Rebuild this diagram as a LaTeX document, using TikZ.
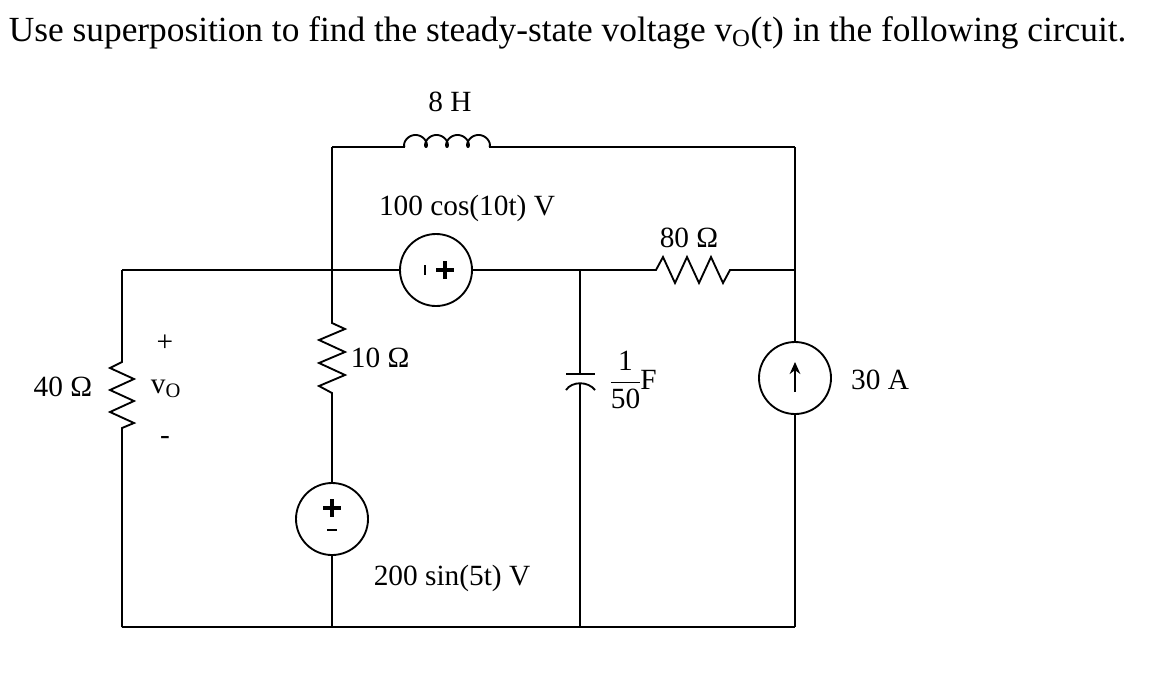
\documentclass[tikz,border=0pt]{standalone}
\usepackage{fontspec}
\setmainfont{Liberation Serif}
\usetikzlibrary{arrows.meta}
\begin{document}
\begin{tikzpicture}[x=0.75pt,y=-0.75pt,line width=1.4pt,
  lbl/.style={font=\fontsize{22}{26}\selectfont,inner sep=0pt},
  src/.style={circle,draw,minimum size=54pt,inner sep=0pt,fill=white}]
\useasboundingbox (0,0) rectangle (1162,686);
\node[font=\fontsize{26.5}{30}\selectfont,anchor=west,inner sep=0pt] (title) at (8,33) {Use superposition to find the steady-state voltage v\textsubscript{O}(t) in the following circuit.};
% corners
\coordinate (tl) at (332,147); \coordinate (tr) at (795,147);
\coordinate (ml) at (122,270); \coordinate (mm) at (332,270); \coordinate (mc) at (580,270); \coordinate (mr) at (795,270);
\coordinate (bl) at (122,627); \coordinate (bm) at (332,627); \coordinate (bc) at (580,627); \coordinate (br) at (795,627);
% top wire with inductor
\draw (tl) -- (405,147);
\draw plot[domain=0:1440,samples=200,smooth] ({405+0.058333*\x-5*sin(\x)},{147-6*(1-cos(\x))});
\draw (489,147) -- (tr);
\node[lbl] (L) at (450,102) {8 H};
% middle wire
\draw (ml) -- (mm) -- (400,270);
\node[src] (vs1) at (436,270) {};
\draw[line width=2.2pt] (425,265) -- (425,275);
\draw[line width=2.4pt] (445,261) -- (445,279) (436,270) -- (454,270);
\draw (472,270) -- (mc) -- (648,270);
\draw (648,270) -- (656,270) -- (663,257) -- (675,283) -- (687,257) -- (699,283) -- (711,257) -- (723,283) -- (730,270) -- (mr);
\node[lbl] (vs1l) at (467,208) {100 cos(10t) V};
\node[lbl] (r80) at (689,238) {80 Ω};
% left branch
\draw (ml) -- (122,362) -- (110,368) -- (134,379) -- (110,390) -- (134,401) -- (110,412) -- (134,423) -- (122,428) -- (bl);
\node[lbl,anchor=east] (r40) at (93,387) {40 Ω};
\node[lbl] (p) at (165,343) {+};
\node[lbl] (vo) at (166,389) {v\textsubscript{O}};
\node[lbl] (m) at (165,440) {-};
% 10 ohm branch
\draw (tl) -- (mm) -- (332,323) -- (345,329) -- (319,340) -- (345,352) -- (319,363) -- (345,375) -- (319,386) -- (332,393) -- (332,483);
\node[src] (vs2) at (332,519) {};
\draw[line width=2.4pt] (332,499) -- (332,517) (323,508) -- (341,508);
\draw[line width=2.2pt] (327,530) -- (337,530);
\draw (332,555) -- (bm);
\node[lbl,anchor=west] (r10) at (350,358) {10 Ω};
\node[lbl] (vs2l) at (452,578) {200 sin(5t) V};
% capacitor
\draw (mc) -- (580,374) (566,374) -- (595,374);
\draw (566,390) .. controls (572,381) and (588,381) .. (595,390);
\draw (580,383) -- (bc);
\node[lbl] (cl) at (633,380) {$\displaystyle\frac{\mbox{1}}{\mbox{50}}$\kern-1pt F};
% current source
\draw (mr) -- (795,342);
\node[src] (is) at (795,378) {};
\draw[-{Stealth[length=9pt,width=8pt]},line width=1.6pt] (795,392) -- (795,362);
\draw (795,414) -- (br);
\draw (tr) -- (mr);
\node[lbl] (isl) at (880,380) {30 A};
% bottom
\draw (bl) -- (br);
\end{tikzpicture}
\end{document}
